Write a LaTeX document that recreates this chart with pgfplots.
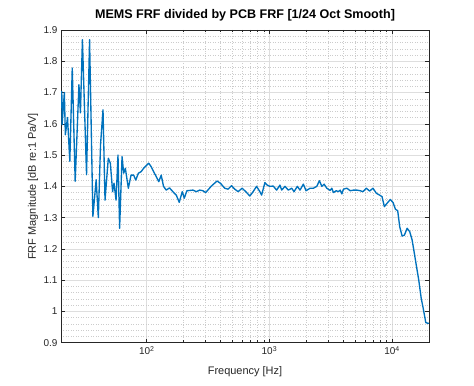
\documentclass[border=0pt]{standalone}
\usepackage{fontspec}
\setmainfont{Liberation Sans}
\usepackage{pgfplots}
\pgfplotsset{compat=1.18}
\definecolor{mblue}{rgb}{0,0.447,0.741}
\definecolor{axgray}{rgb}{0.15,0.15,0.15}
\definecolor{gridgray}{rgb}{0.87,0.87,0.87}
\definecolor{mgridgray}{rgb}{0.80,0.80,0.80}
\begin{document}
\begin{tikzpicture}
\begin{axis}[
  name=ax,
  scale only axis,
  width=368bp, height=312.7bp,
  xmode=log,
  xmin=20, xmax=20000,
  ymin=0.9, ymax=1.9,
  ytick={0.9,1,1.1,1.2,1.3,1.4,1.5,1.6,1.7,1.8,1.9},
  minor y tick num=4,
  xtick={100,1000,10000},
  xticklabels={10\textsuperscript{2},10\textsuperscript{3},10\textsuperscript{4}},
  /pgf/number format/assume math mode=true,
  tick label style={font=\fontsize{10}{12}\selectfont, color=axgray},
  grid=both,
  major grid style={line width=0.5pt, color=gridgray},
  minor grid style={line width=0.5pt, color=mgridgray, dotted},
  axis line style={color=axgray, line width=0.6pt},
  tick style={color=axgray, line width=0.5pt},
  major tick length=4bp,
  minor tick length=2.5bp,
  tick align=inside,
  xtick pos=both, ytick pos=both,
  minor y tick style={draw=none},
  title={MEMS FRF divided by PCB FRF [1/24 Oct Smooth]},
  title style={font=\fontsize{12.6}{14}\selectfont\bfseries, at={(axis description cs:0.5,1)}, anchor=base, yshift=5.7bp},
  xlabel={Frequency [Hz]},
  ylabel={FRF Magnitude [dB re:1 Pa/V]},
  xlabel style={font=\fontsize{11}{13}\selectfont, color=axgray, at={(axis description cs:0.5,-0.0927)}, anchor=center},
  ylabel style={font=\fontsize{11}{13}\selectfont, color=axgray, at={(axis description cs:-0.0761,0.5)}, anchor=center},
]
\addplot[color=mblue, line width=1.35pt, line join=round] coordinates {
(20,1.65) (20.3,1.704) (20.4,1.597) (21.3,1.70) (21.7,1.565) (22.6,1.62)
(23.6,1.48) (24.7,1.778) (26.1,1.416) (28.0,1.725) (28.8,1.635) (29.9,1.869)
(32.3,1.437) (34.2,1.869) (36.4,1.304) (38.7,1.421) (40.3,1.30) (42.0,1.533)
(44.0,1.645) (45.7,1.356) (48.6,1.49) (50.5,1.474) (52.7,1.383) (54.1,1.41)
(56.2,1.356) (58.3,1.50) (60.1,1.266) (62.9,1.495) (64.9,1.442) (66.9,1.458)
(70.8,1.394) (74.5,1.436) (78.3,1.436) (81.3,1.42) (85.5,1.442) (90.0,1.447)
(94.4,1.458) (103.8,1.474) (108.6,1.463) (115.6,1.442) (125.4,1.415)
(131.2,1.436) (137.0,1.40) (144.2,1.388) (153.4,1.395) (163.3,1.383)
(174.1,1.372) (184,1.349) (194.9,1.383) (202.3,1.362) (212.5,1.386)
(237.9,1.388) (253.7,1.383) (270.0,1.388) (287.2,1.386) (302.2,1.380)
(336.5,1.401) (374.0,1.417) (398.7,1.41) (432.3,1.394) (460.0,1.391)
(490.6,1.402) (522.1,1.391) (555.5,1.383) (599.1,1.394) (642.3,1.383)
(692.3,1.369) (736.8,1.383) (786.0,1.40) (836.3,1.383) (863.5,1.372)
(918.9,1.412) (959.5,1.404) (1009.5,1.40) (1074,1.401) (1145,1.388)
(1219,1.404) (1259,1.388) (1339,1.40) (1425,1.388) (1520,1.394) (1587,1.383)
(1689,1.40) (1776,1.388) (1891,1.407) (1990,1.386) (2145,1.394) (2283,1.394)
(2434,1.40) (2556,1.418) (2674,1.40) (2793,1.407) (2938,1.394) (3127,1.387)
(3228,1.394) (3327,1.380) (3502,1.386) (3656,1.383) (3775,1.388) (3897,1.376)
(4016,1.391) (4282,1.394) (4557,1.386) (4851,1.388) (5170,1.388) (5503,1.386)
(5789,1.383) (6162,1.394) (6557,1.385) (6991,1.394) (7439,1.378) (7916,1.372)
(8284,1.367) (8650,1.335) (9101,1.346) (9685,1.358) (10190,1.348)
(10641,1.327) (11111,1.322) (11540,1.271) (12071,1.241) (12607,1.244)
(13267,1.266) (13932,1.255) (14579,1.228) (15509,1.164) (16504,1.10)
(17276,1.042) (17940,1.010) (18837,0.964) (19713,0.962) (20000,0.962)
};
\end{axis}
\path (ax.south west) ++(-61bp,-43.3bp) coordinate (bbA);
\path (ax.north east) ++(45bp,30bp) coordinate (bbB);
\path (bbA) rectangle (bbB);
\end{tikzpicture}
\end{document}
